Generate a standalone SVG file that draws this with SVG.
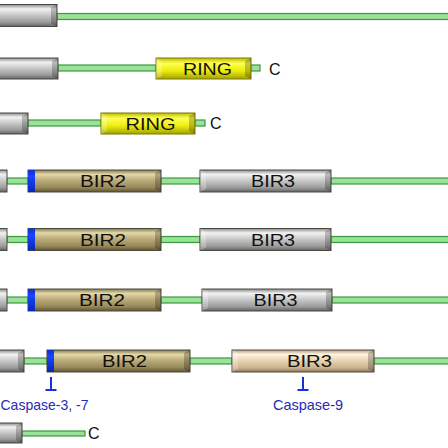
<svg xmlns="http://www.w3.org/2000/svg" width="448" height="448" viewBox="0 0 448 448">
<defs>
<linearGradient id="gGray" x1="0" y1="0" x2="0" y2="1">
<stop offset="0" stop-color="#8a8a8a"/><stop offset="0.2" stop-color="#f2f2f2"/><stop offset="0.45" stop-color="#cccccc"/><stop offset="0.8" stop-color="#9c9c9c"/><stop offset="1" stop-color="#646464"/>
</linearGradient>
<linearGradient id="gTan" x1="0" y1="0" x2="0" y2="1">
<stop offset="0" stop-color="#857850"/><stop offset="0.2" stop-color="#e2d8a8"/><stop offset="0.45" stop-color="#bfae7e"/><stop offset="0.8" stop-color="#968858"/><stop offset="1" stop-color="#605432"/>
</linearGradient>
<linearGradient id="gYellow" x1="0" y1="0" x2="0" y2="1">
<stop offset="0" stop-color="#bcbc00"/><stop offset="0.25" stop-color="#ffff55"/><stop offset="0.6" stop-color="#eeee10"/><stop offset="1" stop-color="#a2a200"/>
</linearGradient>
<linearGradient id="gCream" x1="0" y1="0" x2="0" y2="1">
<stop offset="0" stop-color="#b8a080"/><stop offset="0.2" stop-color="#fff4e0"/><stop offset="0.45" stop-color="#ecd6b4"/><stop offset="0.8" stop-color="#ccb48f"/><stop offset="1" stop-color="#8e7a5a"/>
</linearGradient>
<linearGradient id="gBlue" x1="0" y1="0" x2="0" y2="1">
<stop offset="0" stop-color="#1030c8"/><stop offset="0.3" stop-color="#1a44ff"/><stop offset="1" stop-color="#0a28b0"/>
</linearGradient>
</defs>
<style>
.line{fill:#9ae29a;stroke:#3a983e;stroke-width:1.2}
.box{stroke:#4a4a40;stroke-width:1}
.gray{fill:url(#gGray)}
.tan{fill:url(#gTan)}
.yel{fill:url(#gYellow);stroke:#7a7a00}
.cream{fill:url(#gCream)}
.blue{fill:url(#gBlue)}
.rb{fill:#000;fill-opacity:0.22}
.lb{fill:#fff;fill-opacity:0.25}
.lbl{font-family:"Liberation Sans",Arial,sans-serif;font-size:17px;fill:#111;text-anchor:middle}
.c{font-family:"Liberation Sans",Arial,sans-serif;font-size:16px;fill:#111}
.casp{font-family:"Liberation Sans",Arial,sans-serif;font-size:14.5px;fill:#2a2ab4;text-anchor:middle}
.inh{stroke:#1a30d8;stroke-width:2;fill:none}
</style>

<g id="connectors">
<rect class="line" x="57" y="13.5" width="395" height="6"/>
<rect class="line" x="58" y="65" width="98" height="6"/>
<rect class="line" x="251" y="65" width="9" height="6"/>
<rect class="line" x="28" y="120" width="73" height="6"/>
<rect class="line" x="195" y="120" width="10" height="6"/>
<rect class="line" x="7" y="178" width="21" height="6"/>
<rect class="line" x="161" y="178" width="39" height="6"/>
<rect class="line" x="331" y="178" width="121" height="6"/>
<rect class="line" x="7" y="236.5" width="21" height="6"/>
<rect class="line" x="161" y="236.5" width="39" height="6"/>
<rect class="line" x="331" y="236.5" width="121" height="6"/>
<rect class="line" x="7" y="297" width="21" height="6"/>
<rect class="line" x="161" y="297" width="41" height="6"/>
<rect class="line" x="332" y="297" width="120" height="6"/>
<rect class="line" x="24" y="358" width="23" height="6"/>
<rect class="line" x="190" y="358" width="42" height="6"/>
<rect class="line" x="374" y="358" width="78" height="6"/>
<rect class="line" x="22" y="431" width="63" height="5"/>
<path class="inh" d="M51 377V389M45.5 390H56.5"/>
<path class="inh" d="M303 377V389M297.5 390H308.5"/>
</g>

<g id="row1">
<rect class="box gray" x="-5" y="4.5" width="62" height="22"/>
<polygon class="rb" points="51,7.5 57,4.5 57,26.5 51,23.5"/>
</g>

<g id="row2">
<rect class="box gray" x="-5" y="58" width="63" height="21"/>
<polygon class="rb" points="52,61 58,58 58,79 52,76"/>
<g id="ring1">
<rect class="box yel" x="156" y="58" width="95" height="21"/>
<polygon class="lb" points="156,58 162,61 162,76 156,79"/>
<polygon class="rb" points="245,61 251,58 251,79 245,76"/>
<text class="lbl" x="207.5" y="74.5" textLength="49" lengthAdjust="spacingAndGlyphs">RING</text>
</g>
<text class="c" x="269" y="74.5">C</text>
</g>

<g id="row3">
<rect class="box gray" x="-5" y="113" width="33" height="21"/>
<polygon class="rb" points="22,116 28,113 28,134 22,131"/>
<g id="ring2">
<rect class="box yel" x="101" y="113" width="94" height="21"/>
<polygon class="lb" points="101,113 107,116 107,131 101,134"/>
<polygon class="rb" points="189,116 195,113 195,134 189,131"/>
<text class="lbl" x="150.5" y="129.5" textLength="50" lengthAdjust="spacingAndGlyphs">RING</text>
</g>
<text class="c" x="210" y="129">C</text>
</g>

<g id="row4">
<rect class="box gray" x="-5" y="170" width="12" height="22"/>
<g id="row4-bir2">
<rect class="box tan" x="28" y="170" width="133" height="22"/>
<rect class="blue" x="28" y="170" width="7" height="22"/>
<polygon class="rb" points="155,173 161,170 161,192 155,189"/>
<text class="lbl" x="103" y="187" textLength="46" lengthAdjust="spacingAndGlyphs">BIR2</text>
</g>
<g id="row4-bir3">
<rect class="box gray" x="200" y="170" width="131" height="22"/>
<polygon class="lb" points="200,170 206,173 206,189 200,192"/>
<polygon class="rb" points="325,173 331,170 331,192 325,189"/>
<text class="lbl" x="273" y="187" textLength="44" lengthAdjust="spacingAndGlyphs">BIR3</text>
</g>
</g>

<g id="row5">
<rect class="box gray" x="-5" y="228.5" width="12" height="22"/>
<g id="row5-bir2">
<rect class="box tan" x="28" y="228.5" width="133" height="22"/>
<rect class="blue" x="28" y="228.5" width="7" height="22"/>
<polygon class="rb" points="155,231.5 161,228.5 161,250.5 155,247.5"/>
<text class="lbl" x="103" y="245.5" textLength="46" lengthAdjust="spacingAndGlyphs">BIR2</text>
</g>
<g id="row5-bir3">
<rect class="box gray" x="200" y="228.5" width="131" height="22"/>
<polygon class="lb" points="200,228.5 206,231.5 206,247.5 200,250.5"/>
<polygon class="rb" points="325,231.5 331,228.5 331,250.5 325,247.5"/>
<text class="lbl" x="273" y="245.5" textLength="44" lengthAdjust="spacingAndGlyphs">BIR3</text>
</g>
</g>

<g id="row6">
<rect class="box gray" x="-5" y="289" width="12" height="22"/>
<g id="row6-bir2">
<rect class="box tan" x="28" y="289" width="133" height="22"/>
<rect class="blue" x="28" y="289" width="7" height="22"/>
<polygon class="rb" points="155,292 161,289 161,311 155,308"/>
<text class="lbl" x="102" y="306" textLength="46" lengthAdjust="spacingAndGlyphs">BIR2</text>
</g>
<g id="row6-bir3">
<rect class="box gray" x="202" y="289" width="130" height="22"/>
<polygon class="lb" points="202,289 208,292 208,308 202,311"/>
<polygon class="rb" points="326,292 332,289 332,311 326,308"/>
<text class="lbl" x="275.5" y="306" textLength="44" lengthAdjust="spacingAndGlyphs">BIR3</text>
</g>
</g>

<g id="row7">
<rect class="box gray" x="-5" y="350" width="29" height="22"/>
<polygon class="rb" points="18,353 24,350 24,372 18,369"/>
<g id="row7-bir2">
<rect class="box tan" x="47" y="350" width="143" height="22"/>
<rect class="blue" x="47" y="350" width="7" height="22"/>
<polygon class="rb" points="184,353 190,350 190,372 184,369"/>
<text class="lbl" x="124.5" y="367" textLength="45" lengthAdjust="spacingAndGlyphs">BIR2</text>
</g>
<g id="row7-bir3">
<rect class="box cream" x="232" y="350" width="142" height="22"/>
<polygon class="lb" points="232,350 238,353 238,369 232,372"/>
<polygon class="rb" points="368,353 374,350 374,372 368,369"/>
<text class="lbl" x="309.5" y="367" textLength="45" lengthAdjust="spacingAndGlyphs">BIR3</text>
</g>
<text class="casp" x="0.5" y="410" style="text-anchor:start" textLength="88" lengthAdjust="spacingAndGlyphs">Caspase-3, -7</text>
<text class="casp" x="308" y="410">Caspase-9</text>
</g>

<g id="row8">
<rect class="box gray" x="-5" y="423" width="27" height="20"/>
<polygon class="rb" points="16,426 22,423 22,443 16,440"/>
<text class="c" x="88" y="439">C</text>
</g>
</svg>
